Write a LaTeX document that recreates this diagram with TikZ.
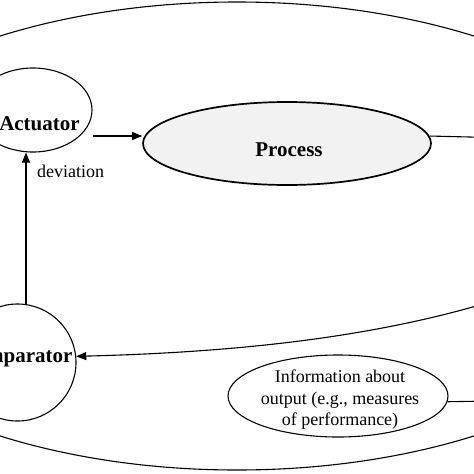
\documentclass[tikz,border=0pt]{standalone}
\usepackage{fontspec}
\setmainfont{Liberation Serif}
\usetikzlibrary{arrows.meta,shapes.geometric}
\definecolor{procfill}{RGB}{242,242,242}
\begin{document}
\begin{tikzpicture}[x=1pt,y=-1pt,
  oval/.style={draw=black, ellipse, inner sep=0pt, line width=1.1pt},
  roundbox/.style={draw=black, circle, inner sep=0pt, line width=1.1pt},
  procoval/.style={oval, fill=procfill, line width=1.7pt},
  boldlabel/.style={font=\fontsize{21}{25}\selectfont\bfseries, inner sep=0pt, anchor=base},
  plainlabel/.style={font=\fontsize{18}{21.5}\selectfont, inner sep=0pt},
  link/.style={line width=1.1pt},
  arr/.style={link, -{Triangle[length=10pt,width=8pt]}}]
\useasboundingbox (0,0) rectangle (474,474);
\clip (0,0) rectangle (474,474);
\fill[white] (0,0) rectangle (474,474);
% shapes
\node[oval, minimum width=912pt, minimum height=468pt] (outer) at (237,236) {};
\node[oval, minimum width=118pt, minimum height=84pt] (actuator) at (33,110) {};
\node[procoval, minimum width=288pt, minimum height=83pt] (process) at (287,143.5) {};
\node[roundbox, minimum size=117pt] (comparator) at (17.5,362.5) {};
\node[oval, minimum width=220pt, minimum height=82pt] (info) at (338,396) {};
% labels
\node[boldlabel] (actlbl) at (39.5,130) {Actuator};
\node[boldlabel] (proclbl) at (289,156) {Process};
\node[boldlabel] (complbl) at (16.5,362) {Comparator};
\node[plainlabel, anchor=base west] (devlbl) at (37,177) {deviation};
\node[plainlabel, align=center] (infolbl) at (340,400) {Information about\\output (e.g., measures\\of performance)};
% connectors
\coordinate (a1) at (93,136);
\draw[arr] (a1) -- (a1 -| process.west);
\coordinate (c1) at (26,304);
\draw[arr] (c1) -- (c1 |- actuator.south);
\coordinate (fb) at (490,302);
\draw[arr] (fb) .. controls (380,335) and (250,352) .. (comparator.6);
\coordinate (pout) at (490,137.5);
\draw[link] (process.3) -- (pout);
\coordinate (iout) at (490,401);
\draw[link] (info.-3.5) -- (iout);
\end{tikzpicture}
\end{document}
